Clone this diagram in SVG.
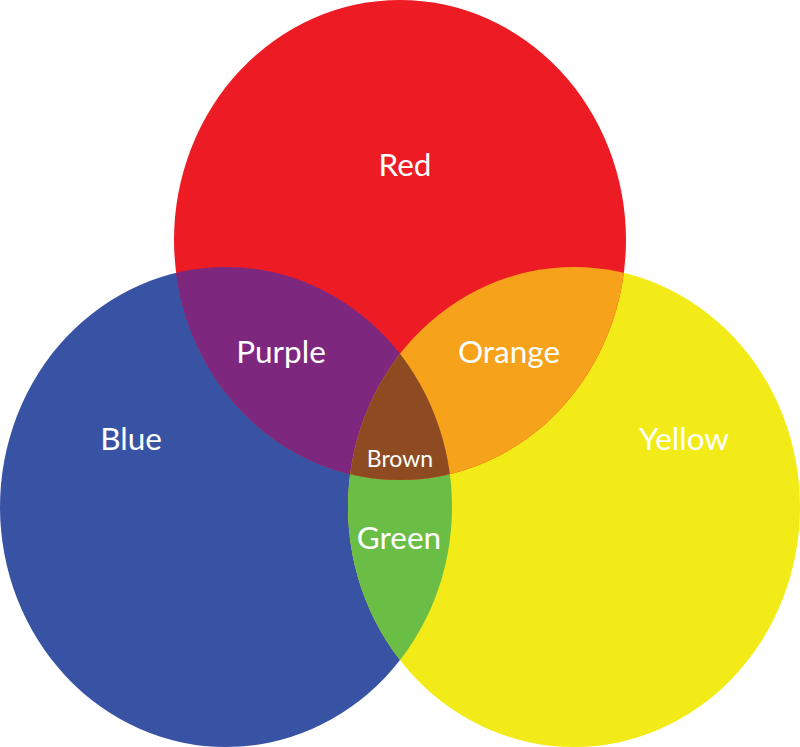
<svg xmlns="http://www.w3.org/2000/svg" width="800" height="747" viewBox="0 0 800 747">
  <style>
    .lbl { font-family: Lato, "Open Sans", "Liberation Sans", sans-serif; fill: #ffffff; text-anchor: middle; font-size: 31.5px; }
    .sm { font-size: 23px; }
  </style>
  <defs>
    <ellipse id="eRed" cx="400" cy="240" rx="226" ry="240"/>
    <ellipse id="eBlue" cx="226" cy="507" rx="226" ry="240"/>
    <ellipse id="eYellow" cx="574" cy="507" rx="226" ry="240"/>
    <clipPath id="cRed"><use href="#eRed"/></clipPath>
    <clipPath id="cBlue"><use href="#eBlue"/></clipPath>
    <clipPath id="cYellow"><use href="#eYellow"/></clipPath>
  </defs>
  <rect width="800" height="747" fill="#ffffff"/>
  <g id="blue"><use href="#eBlue" fill="#3953A4"/><text class="lbl" x="131" y="450">Blue</text></g>
  <g id="yellow"><use href="#eYellow" fill="#F2EB17"/><text class="lbl" x="684" y="450">Yellow</text></g>
  <g id="red"><use href="#eRed" fill="#ED1C24"/><text class="lbl" x="405" y="176">Red</text></g>
  <g id="green"><g clip-path="url(#cBlue)"><use href="#eYellow" fill="#6ABD45"/></g><text class="lbl" x="399" y="549">Green</text></g>
  <g id="purple"><g clip-path="url(#cBlue)"><use href="#eRed" fill="#7E277E"/></g><text class="lbl" x="281" y="363">Purple</text></g>
  <g id="orange"><g clip-path="url(#cYellow)"><use href="#eRed" fill="#F7A21B"/></g><text class="lbl" x="509" y="363">Orange</text></g>
  <g id="brown"><g clip-path="url(#cYellow)"><g clip-path="url(#cBlue)"><use href="#eRed" fill="#8E4A21"/></g></g><text class="lbl sm" x="400" y="467">Brown</text></g>
  <g id="connectors"/>
</svg>
